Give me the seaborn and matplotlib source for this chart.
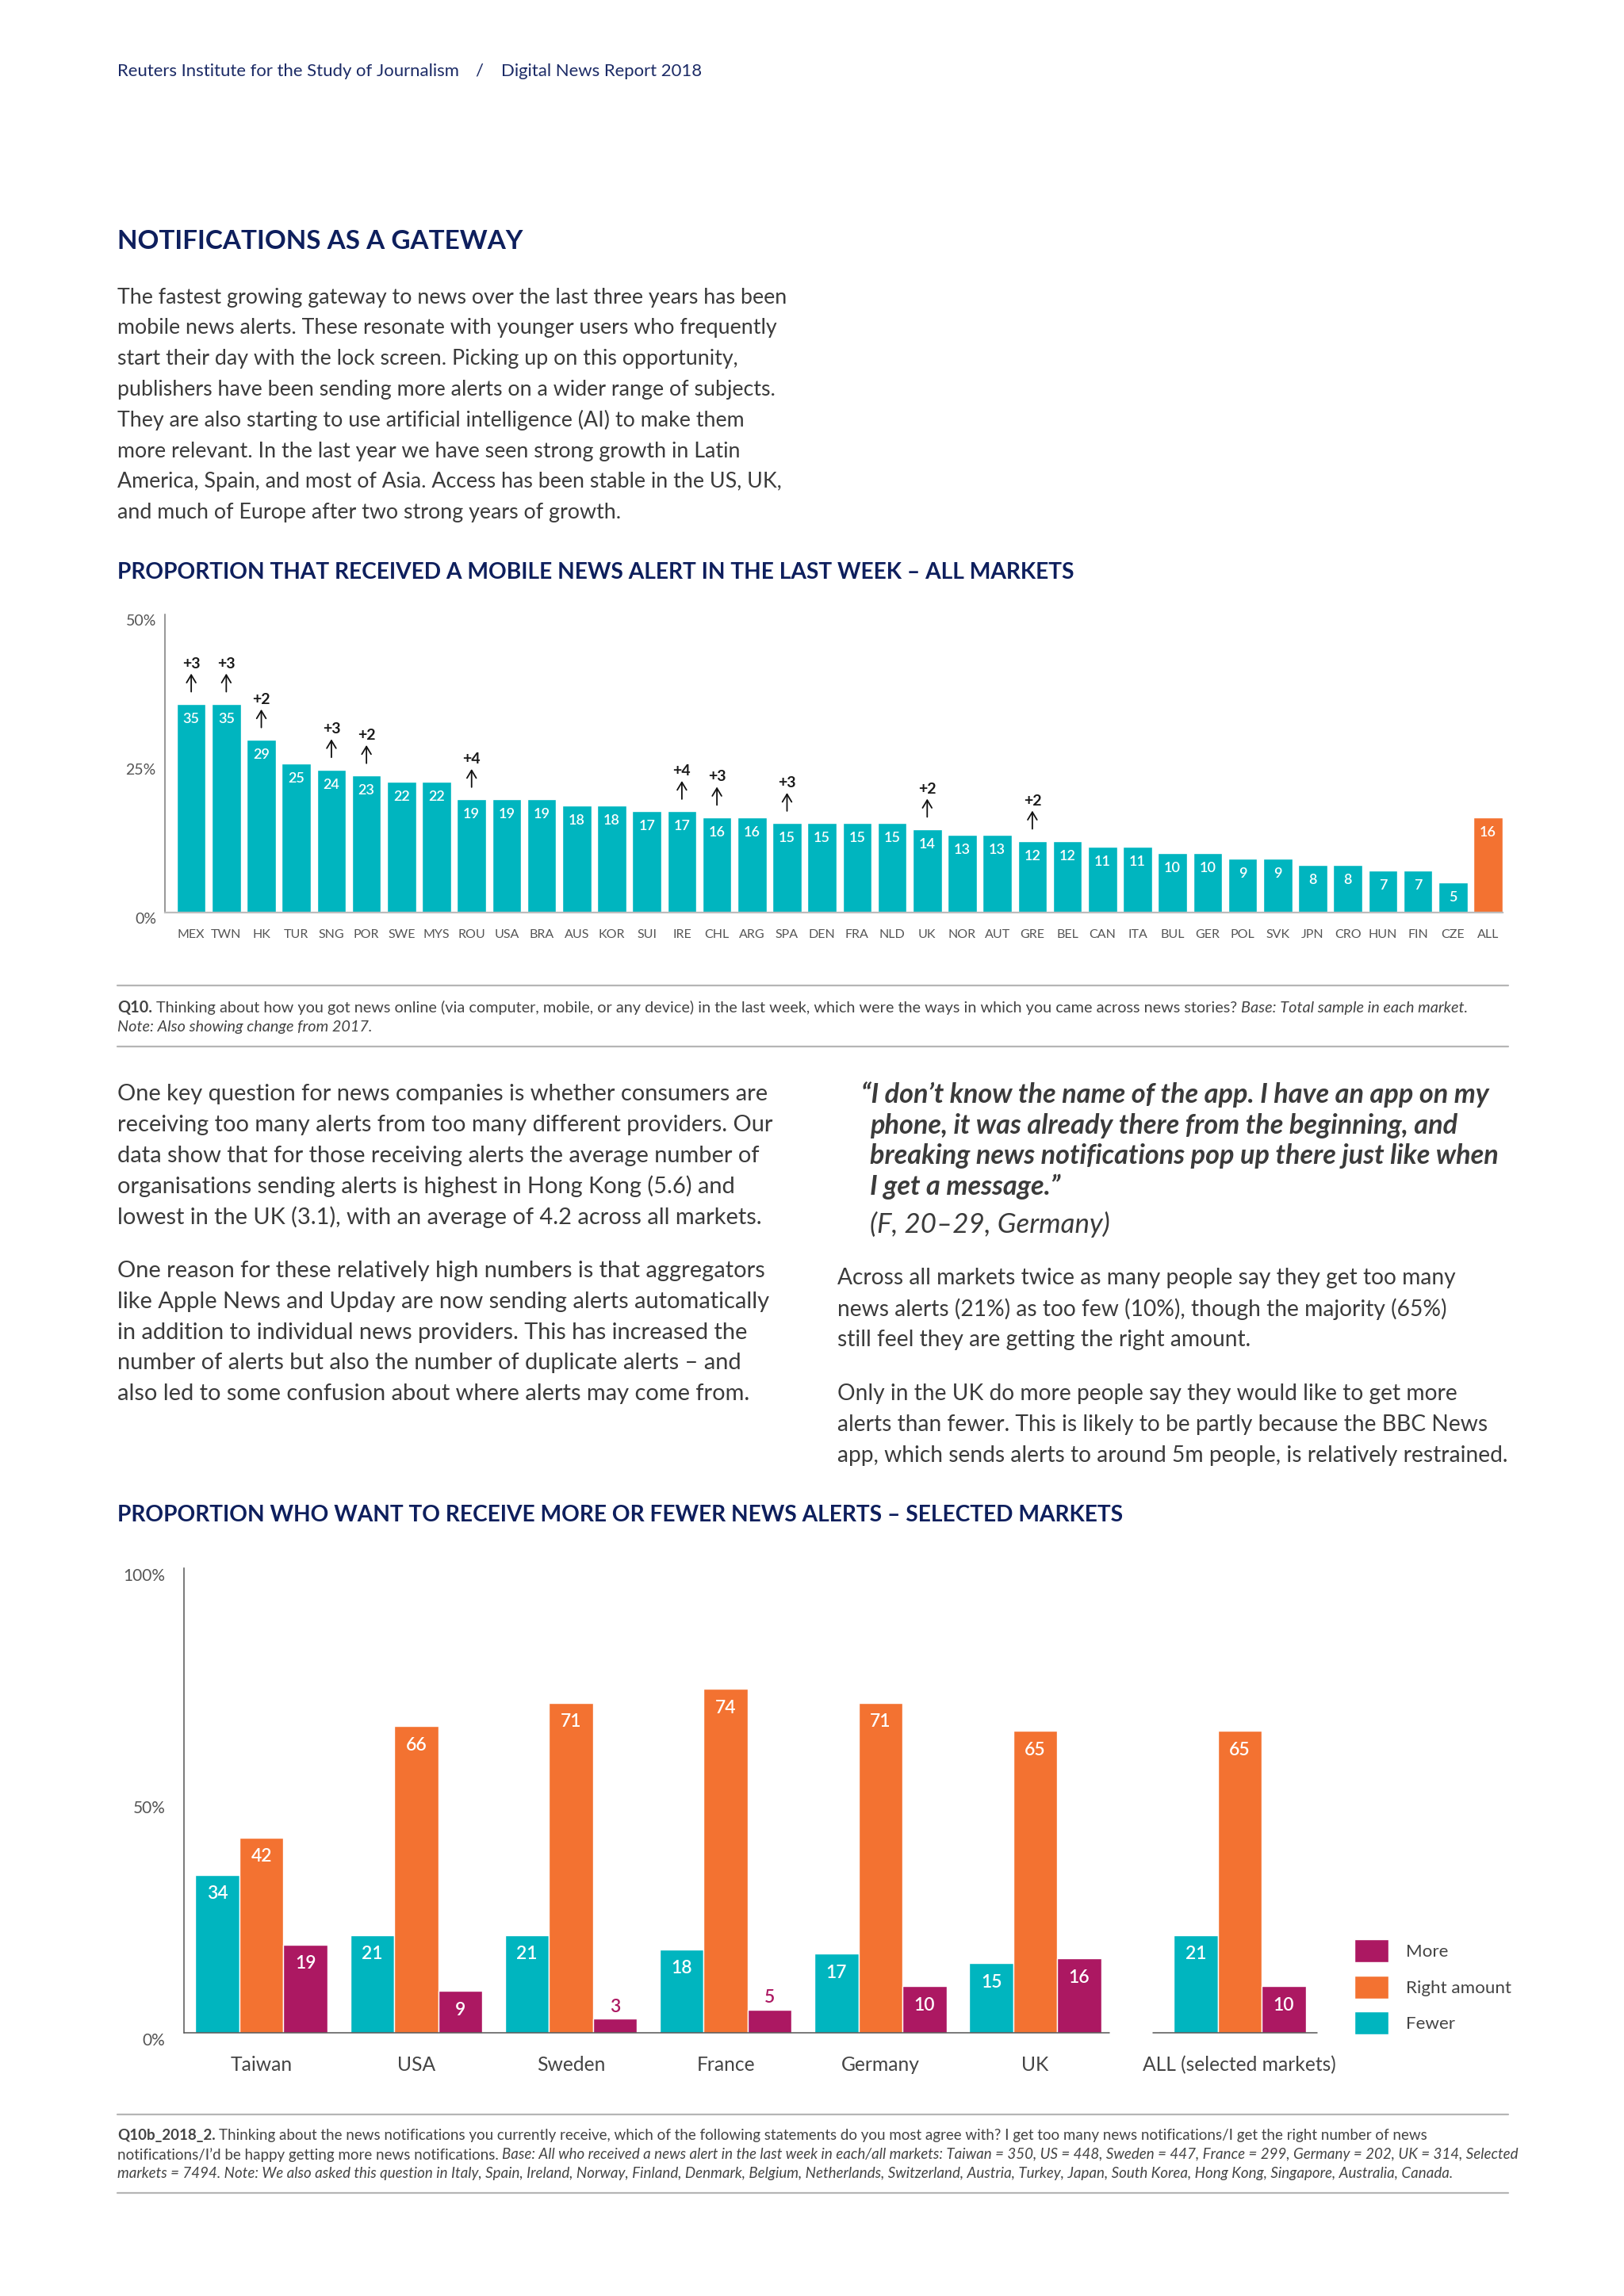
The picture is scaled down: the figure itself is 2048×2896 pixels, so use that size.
import numpy as np
import pandas as pd
import matplotlib
matplotlib.use("Agg")
import matplotlib.pyplot as plt
from matplotlib.lines import Line2D
import seaborn as sns

# =====================================
# Chart data
# =====================================
# chart 1: received a mobile news alert in the last week (%)
markets = ["MEX", "TWN", "HK", "TUR", "SNG", "POR", "SWE", "MYS", "ROU", "USA",
           "BRA", "AUS", "KOR", "SUI", "IRE", "CHL", "ARG", "SPA", "DEN", "FRA",
           "NLD", "UK", "NOR", "AUT", "GRE", "BEL", "CAN", "ITA", "BUL", "GER",
           "POL", "SVK", "JPN", "CRO", "HUN", "FIN", "CZE", "ALL"]
alert_pct = [35, 35, 29, 25, 24, 23, 22, 22, 19, 19,
             19, 18, 18, 17, 17, 16, 16, 15, 15, 15,
             15, 14, 13, 13, 12, 12, 11, 11, 10, 10,
             9, 9, 8, 8, 7, 7, 5, 16]
# change from 2017 (only shown where it went up)
change_2017 = [3, 3, 2, None, 3, 2, None, None, 4, None,
               None, None, None, None, 4, 3, None, 3, None, None,
               None, 2, None, None, 2, None, None, None, None, None,
               None, None, None, None, None, None, None, None]

# chart 2: want more or fewer news alerts (%)
selected = ["Taiwan", "USA", "Sweden", "France", "Germany", "UK", "ALL (selected markets)"]
responses = ["Fewer", "Right amount", "More"]
fewer = [34, 21, 21, 18, 17, 15, 21]
right_amount = [42, 66, 71, 74, 71, 65, 65]
more = [19, 9, 3, 5, 10, 16, 10]

# group positions on the x axis (ALL set a bit apart)
group_pos = [0, 1, 2, 3, 4, 5, 6.32]

# =====================================
# Colours / page setup
# =====================================
TEAL = "#00b5bf"
ORANGE = "#f37231"
MAGENTA = "#ac1862"
NAVY = "#0e1f5d"
TEXT = "#3b3b3b"
GREY = "#555555"

sns.set_theme(style="white")
plt.rcParams["font.family"] = ["Lato", "DejaVu Sans"]

W, H = 2048, 2896
fig = plt.figure(figsize=(W / 100, H / 100), dpi=100)
fig.patch.set_facecolor("white")
renderer = fig.canvas.get_renderer()


def fx(px):
    return px / W


def fy(py):
    return 1 - py / H


STYLES = {
    "r": dict(fontweight="normal", fontstyle="normal"),
    "b": dict(fontweight="bold", fontstyle="normal"),
    "i": dict(fontweight="normal", fontstyle="italic"),
    "bi": dict(fontweight="bold", fontstyle="italic"),
}


def width(s, size, st="r"):
    t = fig.text(0, 0, s, fontsize=size, **STYLES[st])
    w = t.get_window_extent(renderer).width
    t.remove()
    return w


def space(size, st):
    return width("x x", size, st) - width("xx", size, st)


def runs_width(runs, size):
    total = 0
    for k, (s, st) in enumerate(runs):
        if k:
            total += space(size, st)
        total += width(s, size, st)
    return total


def fit_size(runs, target, base=20):
    return base * target / runs_width(runs, base)


def draw_runs(x, y, runs, size, color):
    for k, (s, st) in enumerate(runs):
        if k:
            x += space(size, st)
        t = fig.text(fx(x), fy(y), s, fontsize=size, color=color,
                     ha="left", va="center", **STYLES[st])
        x += t.get_window_extent(renderer).width


def block(x, y0, lines, target, st="r", color=TEXT, dy=38.8, indent=None):
    size = fit_size([(lines[0], st)], target)
    for i, s in enumerate(lines):
        xx = x if (indent is None or i == 0) else indent
        fig.text(fx(xx), fy(y0 + i * dy), s, fontsize=size, color=color,
                 ha="left", va="center", **STYLES[st])
    return size


def rule(y, x0=148, x1=1902):
    fig.add_artist(Line2D([fx(x0), fx(x1)], [fy(y), fy(y)], color="#b5b5b5", lw=1.6))


# =====================================
# Page text
# =====================================
hdr1 = "Reuters Institute for the Study of Journalism"
hdr_size = fit_size([(hdr1, "r")], 432)
fig.text(fx(148), fy(90), hdr1, fontsize=hdr_size, color="#1c2b66", va="center")
fig.text(fx(604), fy(90), "/", fontsize=hdr_size, color="#1c2b66", va="center", ha="center")
fig.text(fx(632), fy(90), "Digital News Report 2018", fontsize=hdr_size, color="#1c2b66", va="center")

block(148, 305, ["NOTIFICATIONS AS A GATEWAY"], 511, st="b", color=NAVY)

para1 = [
    "The fastest growing gateway to news over the last three years has been",
    "mobile news alerts. These resonate with younger users who frequently",
    "start their day with the lock screen. Picking up on this opportunity,",
    "publishers have been sending more alerts on a wider range of subjects.",
    "They are also starting to use artificial intelligence (AI) to make them",
    "more relevant. In the last year we have seen strong growth in Latin",
    "America, Spain, and most of Asia. Access has been stable in the US, UK,",
    "and much of Europe after two strong years of growth.",
]
block(148, 375, para1, 842)

block(148, 722, ["PROPORTION THAT RECEIVED A MOBILE NEWS ALERT IN THE LAST WEEK \u2013 ALL MARKETS"],
      1209, st="b", color=NAVY)
block(148, 1911, ["PROPORTION WHO WANT TO RECEIVE MORE OR FEWER NEWS ALERTS \u2013 SELECTED MARKETS"],
      1268, st="b", color=NAVY)

# footnote under chart 1
rule(1243)
rule(1320)
fn1 = [
    [("Q10.", "b"),
     ("Thinking about how you got news online (via computer, mobile, or any device) in the last week, "
      "which were the ways in which you came across news stories?", "r"),
     ("Base: Total sample in each market.", "i")],
    [("Note: Also showing change from 2017.", "i")],
]
fn1_size = fit_size(fn1[0], 1704)
draw_runs(148, 1271, fn1[0], fn1_size, "#444444")
draw_runs(148, 1295, fn1[1], fn1_size, "#444444")

# two columns
left_p1 = [
    "One key question for news companies is whether consumers are",
    "receiving too many alerts from too many different providers. Our",
    "data show that for those receiving alerts the average number of",
    "organisations sending alerts is highest in Hong Kong (5.6) and",
    "lowest in the UK (3.1), with an average of 4.2 across all markets.",
]
left_p2 = [
    "One reason for these relatively high numbers is that aggregators",
    "like Apple News and Upday are now sending alerts automatically",
    "in addition to individual news providers. This has increased the",
    "number of alerts but also the number of duplicate alerts \u2013 and",
    "also led to some confusion about where alerts may come from.",
]
col_size = block(148, 1380, left_p1, 822)
for i, s in enumerate(left_p2):
    fig.text(fx(148), fy(1603 + i * 38.8), s, fontsize=col_size, color=TEXT, va="center")

quote = [
    "\u201cI don\u2019t know the name of the app. I have an app on my",
    "phone, it was already there from the beginning, and",
    "breaking news notifications pop up there just like when",
    "I get a message.\u201d",
]
q_size = block(1086, 1381, quote, 792, st="bi", dy=38.5, indent=1097)
fig.text(fx(1097), fy(1544), "(F, 20\u201329, Germany)", fontsize=q_size * 1.02,
         color=TEXT, va="center", **STYLES["i"])

right_p1 = [
    "Across all markets twice as many people say they get too many",
    "news alerts (21%) as too few (10%), though the majority (65%)",
    "still feel they are getting the right amount.",
]
right_p2 = [
    "Only in the UK do more people say they would like to get more",
    "alerts than fewer. This is likely to be partly because the BBC News",
    "app, which sends alerts to around 5m people, is relatively restrained.",
]
rp_size = fit_size([(right_p2[2], "r")], 1902 - 1056)
for i, s in enumerate(right_p1):
    fig.text(fx(1056), fy(1612 + i * 38.8), s, fontsize=rp_size, color=TEXT, va="center")
for i, s in enumerate(right_p2):
    fig.text(fx(1056), fy(1758 + i * 38.8), s, fontsize=rp_size, color=TEXT, va="center")

# footnote under chart 2
rule(2667)
rule(2766)
fn2 = [
    [("Q10b_2018_2.", "b"),
     ("Thinking about the news notifications you currently receive, which of the following statements "
      "do you most agree with? I get too many news notifications/I get the right number of news", "r")],
    [("notifications/I\u2019d be happy getting more news notifications.", "r"),
     ("Base: All who received a news alert in the last week in each/all markets: Taiwan = 350, US = 448, "
      "Sweden = 447, France = 299, Germany = 202, UK = 314, Selected", "i")],
    [("markets = 7494. Note: We also asked this question in Italy, Spain, Ireland, Norway, Finland, Denmark, "
      "Belgium, Netherlands, Switzerland, Austria, Turkey, Japan, South Korea, Hong Kong, Singapore, "
      "Australia, Canada.", "i")],
]
fn2_size = fit_size(fn2[1], 1770)
for k, y in enumerate([2694, 2718, 2741]):
    draw_runs(148, y, fn2[k], fn2_size, "#444444")

# =====================================
# Chart 1: mobile news alert in last week
# =====================================
df1 = pd.DataFrame({"market": markets, "pct": alert_pct})
palette1 = {m: TEAL for m in markets}
palette1["ALL"] = ORANGE

ax1 = fig.add_axes([fx(208), fy(1151), (1895 - 208) / W, (1151 - 775) / H])
sns.barplot(data=df1, x="market", y="pct", hue="market", palette=palette1,
            width=0.83, saturation=1, legend=False, ax=ax1)
ax1.set_xlim(-0.75, len(markets) - 1 + 0.42)
ax1.set_ylim(0, 50)
ax1.set_yticks([0, 25, 50])
ax1.set_yticklabels(["0%", "25%", "50%"])
ax1.set_xlabel("")
ax1.set_ylabel("")
ax1.set_facecolor("white")
for side in ["top", "right"]:
    ax1.spines[side].set_visible(False)
ax1.spines["left"].set_color("#7a7a7a")
ax1.spines["left"].set_linewidth(1.1)
ax1.spines["bottom"].set_color("#bdbdbd")
ax1.spines["bottom"].set_linewidth(1.6)
ax1.tick_params(axis="x", length=0, pad=15, labelsize=11.5, labelcolor=GREY)
ax1.tick_params(axis="y", length=0, pad=8, labelsize=14, labelcolor=GREY)
for lab in ax1.get_yticklabels():
    lab.set_va("top")

bars1 = sorted(ax1.patches, key=lambda p: p.get_x())
for rect, ch in zip(bars1, change_2017):
    cx = rect.get_x() + rect.get_width() / 2
    h = rect.get_height()
    ax1.annotate(f"{h:.0f}", (cx, h), xytext=(0, -13.7), textcoords="offset points",
                 ha="center", va="center", color="white", fontsize=13, fontweight="semibold")
    if ch:
        ax1.annotate("", xy=(cx, h), xytext=(0, 27.5), textcoords="offset points",
                     arrowprops=dict(arrowstyle="<-, head_length=0.5, head_width=0.3",
                                     color="#111111", lw=1.3,
                                     shrinkA=0, shrinkB=11, mutation_scale=14))
        ax1.annotate(f"+{ch}", (cx, h), xytext=(0, 36.5), textcoords="offset points",
                     ha="center", va="center", color="#1a1a1a", fontsize=14, fontweight="bold")

# =====================================
# Chart 2: more or fewer alerts
# =====================================
rows = []
for name, pos, f, r, m in zip(selected, group_pos, fewer, right_amount, more):
    rows.append({"market": name, "pos": pos, "response": "Fewer", "pct": f})
    rows.append({"market": name, "pos": pos, "response": "Right amount", "pct": r})
    rows.append({"market": name, "pos": pos, "response": "More", "pct": m})
df2 = pd.DataFrame(rows)
palette2 = {"Fewer": TEAL, "Right amount": ORANGE, "More": MAGENTA}

unit = 195.2
ax2 = fig.add_axes([fx(232), fy(2564), 8 * unit / W, (2564 - 1978) / H])
sns.barplot(data=df2, x="pos", y="pct", hue="response", hue_order=responses,
            palette=palette2, native_scale=True, width=0.853, saturation=1, ax=ax2)
ax2.set_xlim(-0.5, 7.5)
ax2.set_ylim(0, 100)
ax2.set_yticks([0, 50, 100])
ax2.set_yticklabels(["0%", "50%", "100%"])
ax2.set_xticks(group_pos)
cat_size = fit_size([("ALL (selected markets)", "r")], 245)
ax2.set_xticklabels(selected)
ax2.set_xlabel("")
ax2.set_ylabel("")
ax2.set_facecolor("white")
for side in ["top", "right", "bottom"]:
    ax2.spines[side].set_visible(False)
ax2.spines["left"].set_color("#555555")
ax2.spines["left"].set_linewidth(1.1)
ax2.tick_params(axis="x", length=0, pad=21, labelsize=cat_size, labelcolor="#444444")
ax2.tick_params(axis="y", length=0, pad=17, labelsize=15, labelcolor=GREY)
for lab in ax2.get_yticklabels():
    lab.set_va("top")

# broken baseline: markets, then the ALL group
ax2.plot([-0.5, group_pos[5] + 0.48], [0, 0], color="#555555", lw=1.1, clip_on=False)
ax2.plot([group_pos[6] - 0.56, group_pos[6] + 0.5], [0, 0], color="#555555", lw=1.1, clip_on=False)

for cont in ax2.containers:
    for rect in cont:
        cx = rect.get_x() + rect.get_width() / 2
        h = rect.get_height()
        if h >= 7:
            ax2.annotate(f"{h:.0f}", (cx, h), xytext=(0, -17.3), textcoords="offset points",
                         ha="center", va="center", color="white", fontsize=16.5, fontweight="semibold")
        else:
            ax2.annotate(f"{h:.0f}", (cx, h), xytext=(0, 11), textcoords="offset points",
                         ha="center", va="center", color=MAGENTA, fontsize=16.5, fontweight="semibold")

handles, labels = ax2.get_legend_handles_labels()
if ax2.get_legend() is not None:
    ax2.get_legend().remove()
leg_size = fit_size([("Right amount", "r")], 133)
leg_px = leg_size * 100 / 72
fig.legend(handles[::-1], labels[::-1], loc="upper left",
           bbox_to_anchor=(fx(1708), fy(2446)), frameon=False,
           fontsize=leg_size, handlelength=43 / leg_px,
           handleheight=36 / leg_px, labelspacing=9 / leg_px + 0.35,
           handletextpad=1.0, borderpad=0, borderaxespad=0, labelcolor="#444444")

fig.savefig("out.png", dpi=100, facecolor="white")
